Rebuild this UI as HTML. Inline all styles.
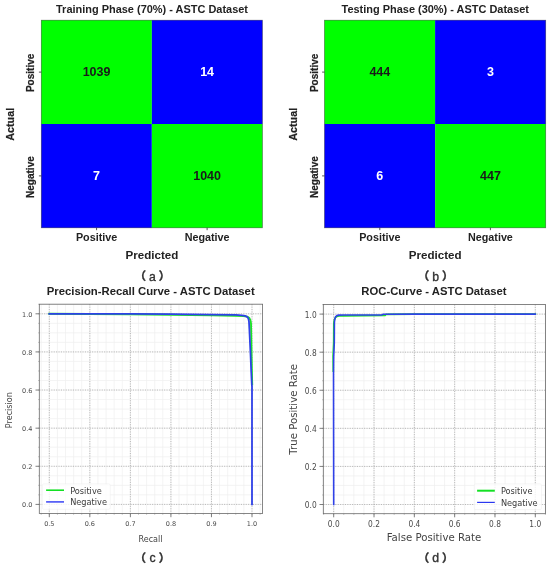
<!DOCTYPE html>
<html lang="en"><head><meta charset="utf-8"><title>ASTC Dataset results</title>
<style>
html,body{margin:0;padding:0;background:#fff;}
body{width:550px;height:568px;overflow:hidden;}
svg{display:block;}
.s{font-family:"Liberation Sans", Arial, sans-serif;}
.d{font-family:"DejaVu Sans", "Liberation Sans", sans-serif;}
.c{font-family:"Liberation Sans", "Noto Sans CJK SC", sans-serif;}
</style></head><body>
<svg width="550" height="568" viewBox="0 0 550 568">
<rect width="550" height="568" fill="#fff"/>
<rect x="41.3" y="20.2" width="110.55" height="103.80" fill="#00ff00"/>
<rect x="151.85" y="20.2" width="110.55" height="103.80" fill="#0000ff"/>
<rect x="41.3" y="124.00" width="110.55" height="103.80" fill="#0000ff"/>
<rect x="151.85" y="124.00" width="110.55" height="103.80" fill="#00ff00"/>
<rect x="41.3" y="20.2" width="221.10" height="207.60" fill="none" stroke="#1a1a1a" stroke-opacity="0.55" stroke-width="0.7"/>
<line x1="96.57" y1="227.8" x2="96.57" y2="230.20000000000002" stroke="#222" stroke-width="0.75"/>
<line x1="207.12" y1="227.8" x2="207.12" y2="230.20000000000002" stroke="#222" stroke-width="0.75"/>
<line x1="38.9" y1="72.10" x2="41.3" y2="72.10" stroke="#222" stroke-width="0.75"/>
<line x1="38.9" y1="175.90" x2="41.3" y2="175.90" stroke="#222" stroke-width="0.75"/>
<text class="s" transform="translate(152.00,13.10) scale(1,0.93)" font-size="10.97" font-weight="bold" fill="#222" text-anchor="middle">Training Phase (70%) - ASTC Dataset</text>
<text class="s" transform="translate(96.57,241.00) scale(1,0.93)" font-size="10.8" font-weight="bold" fill="#222" text-anchor="middle">Positive</text>
<text class="s" transform="translate(207.12,241.00) scale(1,0.93)" font-size="10.8" font-weight="bold" fill="#222" text-anchor="middle">Negative</text>
<text class="s" transform="translate(151.85,259.40) scale(1,0.93)" font-size="11.6" font-weight="bold" fill="#222" text-anchor="middle">Predicted</text>
<text class="s" transform="translate(34.30,72.90) scale(1,0.93) rotate(-90)" font-size="10.8" font-weight="bold" fill="#222" text-anchor="middle" stroke="#222" stroke-width="0.2">Positive</text>
<text class="s" transform="translate(34.30,177.10) scale(1,0.93) rotate(-90)" font-size="10.8" font-weight="bold" fill="#222" text-anchor="middle" stroke="#222" stroke-width="0.2">Negative</text>
<text class="s" transform="translate(13.80,124.30) scale(1,0.93) rotate(-90)" font-size="11.6" font-weight="bold" fill="#222" text-anchor="middle" stroke="#222" stroke-width="0.2">Actual</text>
<text class="s" transform="translate(96.57,75.50) scale(1,1)" font-size="12.5" font-weight="bold" fill="#1a1a1a" text-anchor="middle">1039</text>
<text class="s" transform="translate(207.12,75.50) scale(1,1)" font-size="12.5" font-weight="bold" fill="#ffffff" text-anchor="middle">14</text>
<text class="s" transform="translate(96.57,179.50) scale(1,1)" font-size="12.5" font-weight="bold" fill="#ffffff" text-anchor="middle">7</text>
<text class="s" transform="translate(207.12,179.50) scale(1,1)" font-size="12.5" font-weight="bold" fill="#1a1a1a" text-anchor="middle">1040</text>
<rect x="324.5" y="20.2" width="110.60" height="103.80" fill="#00ff00"/>
<rect x="435.10" y="20.2" width="110.60" height="103.80" fill="#0000ff"/>
<rect x="324.5" y="124.00" width="110.60" height="103.80" fill="#0000ff"/>
<rect x="435.10" y="124.00" width="110.60" height="103.80" fill="#00ff00"/>
<rect x="324.5" y="20.2" width="221.20" height="207.60" fill="none" stroke="#1a1a1a" stroke-opacity="0.55" stroke-width="0.7"/>
<line x1="379.80" y1="227.8" x2="379.80" y2="230.20000000000002" stroke="#222" stroke-width="0.75"/>
<line x1="490.40" y1="227.8" x2="490.40" y2="230.20000000000002" stroke="#222" stroke-width="0.75"/>
<line x1="322.1" y1="72.10" x2="324.5" y2="72.10" stroke="#222" stroke-width="0.75"/>
<line x1="322.1" y1="175.90" x2="324.5" y2="175.90" stroke="#222" stroke-width="0.75"/>
<text class="s" transform="translate(435.25,13.10) scale(1,0.93)" font-size="10.97" font-weight="bold" fill="#222" text-anchor="middle">Testing Phase (30%) - ASTC Dataset</text>
<text class="s" transform="translate(379.80,241.00) scale(1,0.93)" font-size="10.8" font-weight="bold" fill="#222" text-anchor="middle">Positive</text>
<text class="s" transform="translate(490.40,241.00) scale(1,0.93)" font-size="10.8" font-weight="bold" fill="#222" text-anchor="middle">Negative</text>
<text class="s" transform="translate(435.10,259.40) scale(1,0.93)" font-size="11.6" font-weight="bold" fill="#222" text-anchor="middle">Predicted</text>
<text class="s" transform="translate(317.50,72.90) scale(1,0.93) rotate(-90)" font-size="10.8" font-weight="bold" fill="#222" text-anchor="middle" stroke="#222" stroke-width="0.2">Positive</text>
<text class="s" transform="translate(317.50,177.10) scale(1,0.93) rotate(-90)" font-size="10.8" font-weight="bold" fill="#222" text-anchor="middle" stroke="#222" stroke-width="0.2">Negative</text>
<text class="s" transform="translate(297.00,124.30) scale(1,0.93) rotate(-90)" font-size="11.6" font-weight="bold" fill="#222" text-anchor="middle" stroke="#222" stroke-width="0.2">Actual</text>
<text class="s" transform="translate(379.80,75.50) scale(1,1)" font-size="12.5" font-weight="bold" fill="#1a1a1a" text-anchor="middle">444</text>
<text class="s" transform="translate(490.40,75.50) scale(1,1)" font-size="12.5" font-weight="bold" fill="#ffffff" text-anchor="middle">3</text>
<text class="s" transform="translate(379.80,179.50) scale(1,1)" font-size="12.5" font-weight="bold" fill="#ffffff" text-anchor="middle">6</text>
<text class="s" transform="translate(490.40,179.50) scale(1,1)" font-size="12.5" font-weight="bold" fill="#1a1a1a" text-anchor="middle">447</text>
<rect x="39.3" y="304.2" width="223.30" height="209.40" fill="#fff"/>
<path d="M41.19 304.2V513.6M49.30 304.2V513.6M57.41 304.2V513.6M65.52 304.2V513.6M73.62 304.2V513.6M81.73 304.2V513.6M89.84 304.2V513.6M97.95 304.2V513.6M106.06 304.2V513.6M114.16 304.2V513.6M122.27 304.2V513.6M130.38 304.2V513.6M138.49 304.2V513.6M146.60 304.2V513.6M154.70 304.2V513.6M162.81 304.2V513.6M170.92 304.2V513.6M179.03 304.2V513.6M187.14 304.2V513.6M195.24 304.2V513.6M203.35 304.2V513.6M211.46 304.2V513.6M219.57 304.2V513.6M227.68 304.2V513.6M235.78 304.2V513.6M243.89 304.2V513.6M252.00 304.2V513.6M260.11 304.2V513.6M39.3 504.40H262.6M39.3 494.87H262.6M39.3 485.34H262.6M39.3 475.81H262.6M39.3 466.28H262.6M39.3 456.75H262.6M39.3 447.22H262.6M39.3 437.69H262.6M39.3 428.16H262.6M39.3 418.63H262.6M39.3 409.10H262.6M39.3 399.57H262.6M39.3 390.04H262.6M39.3 380.51H262.6M39.3 370.98H262.6M39.3 361.45H262.6M39.3 351.92H262.6M39.3 342.39H262.6M39.3 332.86H262.6M39.3 323.33H262.6M39.3 313.80H262.6M39.3 304.27H262.6" stroke="#efefef" stroke-width="0.7" fill="none"/>
<path d="M49.30 304.2V513.6M89.84 304.2V513.6M130.38 304.2V513.6M170.92 304.2V513.6M211.46 304.2V513.6M252.00 304.2V513.6M39.3 504.40H262.6M39.3 466.28H262.6M39.3 428.16H262.6M39.3 390.04H262.6M39.3 351.92H262.6M39.3 313.80H262.6" stroke="#9e9e9e" stroke-width="0.7" stroke-dasharray="1.1 1.3" fill="none"/>
<clipPath id="cp39"><rect x="39.3" y="304.2" width="223.30" height="209.40"/></clipPath>
<path d="M49.30 313.80 L130.38 314.18 L170.92 314.75 L211.46 315.33 L235.78 315.71 L243.49 316.09 L247.13 316.66 L249.16 317.80 L250.38 320.09 L250.99 323.33 L251.19 332.86 L251.39 344.30 L251.59 355.73 L251.88 370.98 L252.20 384.32" stroke="#1ce426" stroke-width="1.9" fill="none" stroke-linejoin="round" stroke-linecap="square" clip-path="url(#cp39)"/>
<path d="M49.30 313.80 L130.38 313.90 L170.92 314.18 L211.46 314.56 L235.78 314.94 L241.86 315.33 L245.11 315.90 L247.13 316.85 L248.35 318.57 L248.96 321.42 L249.36 329.05 L249.97 342.39 L250.58 355.73 L251.19 370.98 L251.80 384.32 L252.00 386.23 L252.00 504.40" stroke="#2f41e8" stroke-width="1.8" fill="none" stroke-linejoin="round" stroke-linecap="square" clip-path="url(#cp39)"/>
<path d="M41.19 513.6v1.3M49.30 513.6v1.3M57.41 513.6v1.3M65.52 513.6v1.3M73.62 513.6v1.3M81.73 513.6v1.3M89.84 513.6v1.3M97.95 513.6v1.3M106.06 513.6v1.3M114.16 513.6v1.3M122.27 513.6v1.3M130.38 513.6v1.3M138.49 513.6v1.3M146.60 513.6v1.3M154.70 513.6v1.3M162.81 513.6v1.3M170.92 513.6v1.3M179.03 513.6v1.3M187.14 513.6v1.3M195.24 513.6v1.3M203.35 513.6v1.3M211.46 513.6v1.3M219.57 513.6v1.3M227.68 513.6v1.3M235.78 513.6v1.3M243.89 513.6v1.3M252.00 513.6v1.3M260.11 513.6v1.3M39.3 504.40h-1.3M39.3 494.87h-1.3M39.3 485.34h-1.3M39.3 475.81h-1.3M39.3 466.28h-1.3M39.3 456.75h-1.3M39.3 447.22h-1.3M39.3 437.69h-1.3M39.3 428.16h-1.3M39.3 418.63h-1.3M39.3 409.10h-1.3M39.3 399.57h-1.3M39.3 390.04h-1.3M39.3 380.51h-1.3M39.3 370.98h-1.3M39.3 361.45h-1.3M39.3 351.92h-1.3M39.3 342.39h-1.3M39.3 332.86h-1.3M39.3 323.33h-1.3M39.3 313.80h-1.3M39.3 304.27h-1.3" stroke="#999" stroke-width="0.5" fill="none"/>
<path d="M49.30 513.6v3.6M89.84 513.6v3.6M130.38 513.6v3.6M170.92 513.6v3.6M211.46 513.6v3.6M252.00 513.6v3.6M39.3 504.40h-3.8M39.3 466.28h-3.8M39.3 428.16h-3.8M39.3 390.04h-3.8M39.3 351.92h-3.8M39.3 313.80h-3.8" stroke="#707070" stroke-width="0.9" fill="none"/>
<rect x="39.3" y="304.2" width="223.30" height="209.40" fill="none" stroke="#686868" stroke-width="0.8"/>
<text class="d" transform="translate(49.30,525.70) scale(1,1)" font-size="6.5" font-weight="normal" fill="#4a4a4a" text-anchor="middle">0.5</text>
<text class="d" transform="translate(89.84,525.70) scale(1,1)" font-size="6.5" font-weight="normal" fill="#4a4a4a" text-anchor="middle">0.6</text>
<text class="d" transform="translate(130.38,525.70) scale(1,1)" font-size="6.5" font-weight="normal" fill="#4a4a4a" text-anchor="middle">0.7</text>
<text class="d" transform="translate(170.92,525.70) scale(1,1)" font-size="6.5" font-weight="normal" fill="#4a4a4a" text-anchor="middle">0.8</text>
<text class="d" transform="translate(211.46,525.70) scale(1,1)" font-size="6.5" font-weight="normal" fill="#4a4a4a" text-anchor="middle">0.9</text>
<text class="d" transform="translate(252.00,525.70) scale(1,1)" font-size="6.5" font-weight="normal" fill="#4a4a4a" text-anchor="middle">1.0</text>
<text class="d" transform="translate(32.40,507.11) scale(1,1)" font-size="6.5" font-weight="normal" fill="#4a4a4a" text-anchor="end">0.0</text>
<text class="d" transform="translate(32.40,468.99) scale(1,1)" font-size="6.5" font-weight="normal" fill="#4a4a4a" text-anchor="end">0.2</text>
<text class="d" transform="translate(32.40,430.87) scale(1,1)" font-size="6.5" font-weight="normal" fill="#4a4a4a" text-anchor="end">0.4</text>
<text class="d" transform="translate(32.40,392.75) scale(1,1)" font-size="6.5" font-weight="normal" fill="#4a4a4a" text-anchor="end">0.6</text>
<text class="d" transform="translate(32.40,354.63) scale(1,1)" font-size="6.5" font-weight="normal" fill="#4a4a4a" text-anchor="end">0.8</text>
<text class="d" transform="translate(32.40,316.51) scale(1,1)" font-size="6.5" font-weight="normal" fill="#4a4a4a" text-anchor="end">1.0</text>
<text class="s" transform="translate(150.70,295.00) scale(1,0.93)" font-size="11.33" font-weight="bold" fill="#222" text-anchor="middle">Precision-Recall Curve - ASTC Dataset</text>
<text class="d" transform="translate(150.50,542.20) scale(1,1)" font-size="8.05" font-weight="normal" fill="#444" text-anchor="middle">Recall</text>
<text class="d" transform="translate(12.00,410.20) scale(1,1) rotate(-90)" font-size="8.05" font-weight="normal" fill="#444" text-anchor="middle">Precision</text>
<rect x="42.4" y="483.9" width="67.90" height="25.40" rx="1.5" fill="#fff" fill-opacity="0.8" stroke="#ececec" stroke-width="0.5"/>
<line x1="46.1" y1="490.2" x2="64" y2="490.2" stroke="#14e024" stroke-width="1.6"/>
<line x1="46.1" y1="501.9" x2="64" y2="501.9" stroke="#4650f5" stroke-width="1.6"/>
<text class="d" transform="translate(70.20,493.70) scale(1,1)" font-size="8.2" font-weight="normal" fill="#3a3a3a" text-anchor="start">Positive</text>
<text class="d" transform="translate(70.20,505.30) scale(1,1)" font-size="8.2" font-weight="normal" fill="#3a3a3a" text-anchor="start">Negative</text>
<rect x="323.3" y="304.5" width="222.20" height="209.20" fill="#fff"/>
<path d="M323.62 304.5V513.7M333.70 304.5V513.7M343.78 304.5V513.7M353.86 304.5V513.7M363.94 304.5V513.7M374.02 304.5V513.7M384.10 304.5V513.7M394.18 304.5V513.7M404.26 304.5V513.7M414.34 304.5V513.7M424.42 304.5V513.7M434.50 304.5V513.7M444.58 304.5V513.7M454.66 304.5V513.7M464.74 304.5V513.7M474.82 304.5V513.7M484.90 304.5V513.7M494.98 304.5V513.7M505.06 304.5V513.7M515.14 304.5V513.7M525.22 304.5V513.7M535.30 304.5V513.7M545.38 304.5V513.7M323.3 504.50H545.5M323.3 494.98H545.5M323.3 485.46H545.5M323.3 475.94H545.5M323.3 466.42H545.5M323.3 456.90H545.5M323.3 447.38H545.5M323.3 437.86H545.5M323.3 428.34H545.5M323.3 418.82H545.5M323.3 409.30H545.5M323.3 399.78H545.5M323.3 390.26H545.5M323.3 380.74H545.5M323.3 371.22H545.5M323.3 361.70H545.5M323.3 352.18H545.5M323.3 342.66H545.5M323.3 333.14H545.5M323.3 323.62H545.5M323.3 314.10H545.5M323.3 304.58H545.5" stroke="#efefef" stroke-width="0.7" fill="none"/>
<path d="M333.70 304.5V513.7M374.02 304.5V513.7M414.34 304.5V513.7M454.66 304.5V513.7M494.98 304.5V513.7M535.30 304.5V513.7M323.3 504.50H545.5M323.3 466.42H545.5M323.3 428.34H545.5M323.3 390.26H545.5M323.3 352.18H545.5M323.3 314.10H545.5" stroke="#9e9e9e" stroke-width="0.7" stroke-dasharray="1.1 1.3" fill="none"/>
<clipPath id="cp323"><rect x="323.3" y="304.5" width="222.20" height="209.20"/></clipPath>
<path d="M333.30 371.22 L333.10 355.99 L333.70 342.66 L333.80 323.62 L334.31 320.19 L335.32 317.71 L336.93 316.38 L338.74 315.91 L343.78 315.81 L363.94 315.62 L385.11 315.43 L386.12 314.29 L414.34 314.10 L535.30 314.10" stroke="#1ce426" stroke-width="1.7" fill="none" stroke-linejoin="round" stroke-linecap="square" clip-path="url(#cp323)"/>
<path d="M333.70 504.50 L333.50 371.22 L333.70 355.99 L334.31 342.66 L334.41 322.66 L334.71 319.43 L335.52 316.95 L336.93 315.62 L338.74 315.14 L343.78 315.05 L363.94 314.95 L382.09 314.86 L383.09 314.19 L414.34 314.10 L535.30 314.10" stroke="#2f41e8" stroke-width="1.6" fill="none" stroke-linejoin="round" stroke-linecap="square" clip-path="url(#cp323)"/>
<path d="M323.62 513.7v1.3M333.70 513.7v1.3M343.78 513.7v1.3M353.86 513.7v1.3M363.94 513.7v1.3M374.02 513.7v1.3M384.10 513.7v1.3M394.18 513.7v1.3M404.26 513.7v1.3M414.34 513.7v1.3M424.42 513.7v1.3M434.50 513.7v1.3M444.58 513.7v1.3M454.66 513.7v1.3M464.74 513.7v1.3M474.82 513.7v1.3M484.90 513.7v1.3M494.98 513.7v1.3M505.06 513.7v1.3M515.14 513.7v1.3M525.22 513.7v1.3M535.30 513.7v1.3M545.38 513.7v1.3M323.3 504.50h-1.3M323.3 494.98h-1.3M323.3 485.46h-1.3M323.3 475.94h-1.3M323.3 466.42h-1.3M323.3 456.90h-1.3M323.3 447.38h-1.3M323.3 437.86h-1.3M323.3 428.34h-1.3M323.3 418.82h-1.3M323.3 409.30h-1.3M323.3 399.78h-1.3M323.3 390.26h-1.3M323.3 380.74h-1.3M323.3 371.22h-1.3M323.3 361.70h-1.3M323.3 352.18h-1.3M323.3 342.66h-1.3M323.3 333.14h-1.3M323.3 323.62h-1.3M323.3 314.10h-1.3M323.3 304.58h-1.3" stroke="#999" stroke-width="0.5" fill="none"/>
<path d="M333.70 513.7v3.6M374.02 513.7v3.6M414.34 513.7v3.6M454.66 513.7v3.6M494.98 513.7v3.6M535.30 513.7v3.6M323.3 504.50h-3.8M323.3 466.42h-3.8M323.3 428.34h-3.8M323.3 390.26h-3.8M323.3 352.18h-3.8M323.3 314.10h-3.8" stroke="#707070" stroke-width="0.9" fill="none"/>
<rect x="323.3" y="304.5" width="222.20" height="209.20" fill="none" stroke="#686868" stroke-width="0.8"/>
<text class="d" transform="translate(333.70,526.50) scale(0.85,1)" font-size="8.8" font-weight="normal" fill="#4a4a4a" text-anchor="middle">0.0</text>
<text class="d" transform="translate(374.02,526.50) scale(0.85,1)" font-size="8.8" font-weight="normal" fill="#4a4a4a" text-anchor="middle">0.2</text>
<text class="d" transform="translate(414.34,526.50) scale(0.85,1)" font-size="8.8" font-weight="normal" fill="#4a4a4a" text-anchor="middle">0.4</text>
<text class="d" transform="translate(454.66,526.50) scale(0.85,1)" font-size="8.8" font-weight="normal" fill="#4a4a4a" text-anchor="middle">0.6</text>
<text class="d" transform="translate(494.98,526.50) scale(0.85,1)" font-size="8.8" font-weight="normal" fill="#4a4a4a" text-anchor="middle">0.8</text>
<text class="d" transform="translate(535.30,526.50) scale(0.85,1)" font-size="8.8" font-weight="normal" fill="#4a4a4a" text-anchor="middle">1.0</text>
<text class="d" transform="translate(316.70,508.07) scale(0.85,1)" font-size="8.8" font-weight="normal" fill="#4a4a4a" text-anchor="end">0.0</text>
<text class="d" transform="translate(316.70,469.99) scale(0.85,1)" font-size="8.8" font-weight="normal" fill="#4a4a4a" text-anchor="end">0.2</text>
<text class="d" transform="translate(316.70,431.91) scale(0.85,1)" font-size="8.8" font-weight="normal" fill="#4a4a4a" text-anchor="end">0.4</text>
<text class="d" transform="translate(316.70,393.82) scale(0.85,1)" font-size="8.8" font-weight="normal" fill="#4a4a4a" text-anchor="end">0.6</text>
<text class="d" transform="translate(316.70,355.74) scale(0.85,1)" font-size="8.8" font-weight="normal" fill="#4a4a4a" text-anchor="end">0.8</text>
<text class="d" transform="translate(316.70,317.66) scale(0.85,1)" font-size="8.8" font-weight="normal" fill="#4a4a4a" text-anchor="end">1.0</text>
<text class="s" transform="translate(433.90,295.00) scale(1,0.93)" font-size="11.3" font-weight="bold" fill="#222" text-anchor="middle">ROC-Curve - ASTC Dataset</text>
<text class="d" transform="translate(434.00,541.20) scale(1,1)" font-size="10.2" font-weight="normal" fill="#444" text-anchor="middle">False Positive Rate</text>
<text class="d" transform="translate(296.90,409.30) scale(1,1) rotate(-90)" font-size="10.2" font-weight="normal" fill="#444" text-anchor="middle">True Positive Rate</text>
<rect x="474.3" y="483.9" width="67.20" height="25.70" rx="1.5" fill="#fff" fill-opacity="0.8" stroke="#ececec" stroke-width="0.5"/>
<line x1="477.1" y1="490.7" x2="494.8" y2="490.7" stroke="#14e024" stroke-width="2.0"/>
<line x1="477.1" y1="502.4" x2="494.8" y2="502.4" stroke="#2a38f0" stroke-width="1.2"/>
<text class="d" transform="translate(500.90,494.20) scale(1,1)" font-size="8.2" font-weight="normal" fill="#3a3a3a" text-anchor="start">Positive</text>
<text class="d" transform="translate(500.90,505.80) scale(1,1)" font-size="8.2" font-weight="normal" fill="#3a3a3a" text-anchor="start">Negative</text>
<text class="c" transform="translate(133.81,279.73) scale(1.0,0.9)" font-size="12.5" font-weight="bold" fill="#333" stroke="#333" stroke-width="0.3">（</text>
<text class="c" transform="translate(158.62,279.73) scale(1.0,0.9)" font-size="12.5" font-weight="bold" fill="#333" stroke="#333" stroke-width="0.3">）</text>
<text class="s" transform="translate(152.5,280.5) scale(0.92,0.97)" font-size="13.3" font-weight="normal" fill="#333" stroke="#333" stroke-width="0.4" text-anchor="middle">a</text>
<text class="c" transform="translate(416.96,279.73) scale(1.0,0.9)" font-size="12.5" font-weight="bold" fill="#333" stroke="#333" stroke-width="0.3">（</text>
<text class="c" transform="translate(441.77,279.73) scale(1.0,0.9)" font-size="12.5" font-weight="bold" fill="#333" stroke="#333" stroke-width="0.3">）</text>
<text class="s" transform="translate(435.65,280.5) scale(0.92,0.97)" font-size="13.3" font-weight="normal" fill="#333" stroke="#333" stroke-width="0.4" text-anchor="middle">b</text>
<text class="c" transform="translate(133.81,561.62) scale(1.0,0.9)" font-size="12.5" font-weight="bold" fill="#333" stroke="#333" stroke-width="0.3">（</text>
<text class="c" transform="translate(158.62,561.62) scale(1.0,0.9)" font-size="12.5" font-weight="bold" fill="#333" stroke="#333" stroke-width="0.3">）</text>
<text class="s" transform="translate(152.5,562.4) scale(0.92,0.97)" font-size="13.3" font-weight="normal" fill="#333" stroke="#333" stroke-width="0.4" text-anchor="middle">c</text>
<text class="c" transform="translate(416.96,561.62) scale(1.0,0.9)" font-size="12.5" font-weight="bold" fill="#333" stroke="#333" stroke-width="0.3">（</text>
<text class="c" transform="translate(441.77,561.62) scale(1.0,0.9)" font-size="12.5" font-weight="bold" fill="#333" stroke="#333" stroke-width="0.3">）</text>
<text class="s" transform="translate(435.65,562.4) scale(0.92,0.97)" font-size="13.3" font-weight="normal" fill="#333" stroke="#333" stroke-width="0.4" text-anchor="middle">d</text>
</svg>
</body></html>
